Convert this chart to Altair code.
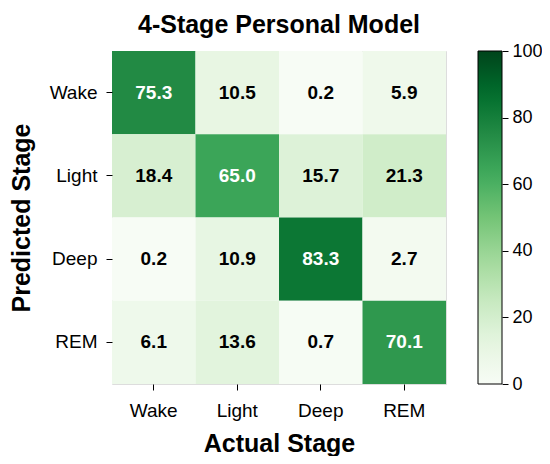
import altair as alt
import pandas as pd

actual = ["Wake", "Light", "Deep", "REM"]
predicted = ["Wake", "Light", "Deep", "REM"]
values = [
    [75.3, 10.5, 0.2, 5.9],
    [18.4, 65.0, 15.7, 21.3],
    [0.2, 10.9, 83.3, 2.7],
    [6.1, 13.6, 0.7, 70.1],
]
cbar_ticks = [0, 20, 40, 60, 80, 100]
greens = ["#f7fcf5", "#e5f5e0", "#c7e9c0", "#a1d99b", "#74c476",
          "#41ab5d", "#238b45", "#006d2c", "#00441b"]

rows = []
for i, p in enumerate(predicted):
    for j, a in enumerate(actual):
        rows.append({"Actual": a, "Predicted": p, "value": values[i][j]})
df = pd.DataFrame(rows)
tick_df = pd.DataFrame({"v": [min(cbar_ticks), max(cbar_ticks)]})

FONT = "Liberation Sans"

x_enc = alt.X("Actual:N", sort=actual, title="Actual Stage",
              scale=alt.Scale(paddingInner=0, paddingOuter=0),
              axis=alt.Axis(labelAngle=0, labelFontSize=19, tickSize=6,
                            labelPadding=11, domain=False, titleFontSize=25,
                            titleFontWeight="bold", titlePadding=11,
                            tickColor="black", labelColor="black", titleColor="black"))
y_enc = alt.Y("Predicted:N", sort=predicted, title="Predicted Stage",
              scale=alt.Scale(paddingInner=0, paddingOuter=0),
              axis=alt.Axis(labelFontSize=19, tickSize=6, labelPadding=9,
                            domain=False, titleFontSize=25, titleFontWeight="bold",
                            titlePadding=15, tickColor="black",
                            labelColor="black", titleColor="black"))

color_scale = alt.Scale(domain=[0, 100], range=greens, interpolate="rgb")

heat = alt.Chart(df).mark_rect(strokeWidth=0).encode(
    x=x_enc,
    y=y_enc,
    color=alt.Color("value:Q", scale=color_scale,
                    legend=alt.Legend(orient="none", legendX=366, legendY=0,
                                      direction="vertical",
                                      gradientLength=333, gradientThickness=24,
                                      gradientStrokeColor="black",
                                      gradientStrokeWidth=1,
                                      labelExpr="''", title=None, padding=0)),
)

text = alt.Chart(df).mark_text(fontSize=19, fontWeight="bold", font=FONT).encode(
    x=alt.X("Actual:N", sort=actual),
    y=alt.Y("Predicted:N", sort=predicted),
    text=alt.Text("value:Q", format=".1f"),
    color=alt.condition("datum.value > 50", alt.value("white"), alt.value("black")),
)

cbar_axis = alt.Chart(tick_df).mark_point(opacity=0).encode(
    y=alt.Y("v:Q", scale=alt.Scale(domain=[0, 100], nice=False),
            axis=alt.Axis(orient="right", offset=56, values=cbar_ticks,
                          tickSize=6, labelFontSize=18, labelPadding=4,
                          domain=False, grid=False, title=None,
                          tickColor="black", labelColor="black")),
)

chart = alt.layer(alt.layer(heat, text), cbar_axis).resolve_scale(
    y="independent"
).properties(
    width=334, height=333,
    title=alt.TitleParams("4-Stage Personal Model", fontSize=25, fontWeight="bold",
                          font=FONT, anchor="middle", frame="group", offset=4,
                          color="black"),
    autosize=alt.AutoSizeParams(type="none"),
    padding={"left": 104, "top": 43, "right": 96, "bottom": 72},
).configure_view(
    stroke="black", strokeWidth=1
).configure(
    font=FONT
).configure_axis(
    labelFont=FONT, titleFont=FONT
)

chart.save("out.html", embed_options={"renderer": "svg", "actions": False})
